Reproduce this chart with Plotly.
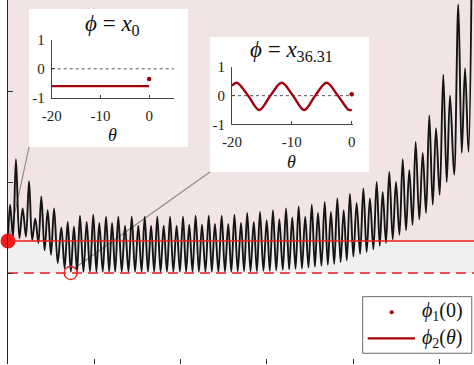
import plotly.graph_objects as go

# ---------------- main panel data ----------------
# local maxima of the oscillating trajectory
peak_x = [1.2, 4.6, 8.5, 12.2, 15.8, 19.3, 23.0, 26.7, 30.9, 34.6, 38.2, 41.7, 45.6, 49.4, 52.9, 56.8,
          60.3, 63.9, 67.8, 71.7, 75.5, 79.2, 82.9, 86.5, 90.2, 93.9, 97.7, 101.4, 105.0, 108.7, 112.4,
          116.3, 119.9, 123.8, 127.6, 131.2, 135.0, 138.6, 142.4, 146.0, 149.9, 153.5, 157.2, 161.1,
          164.7, 168.4, 172.2, 176.0, 179.6, 183.5, 187.1, 190.8, 194.5, 198.1, 202.0, 205.9, 209.7,
          213.6, 217.1, 220.9, 224.8, 228.7, 232.5, 236.2, 240.3, 244.1, 248.0, 252.2, 256.1, 260.9,
          264.8, 268.7]
peak_y = [1.75, 2.25, 1.71, 2.01, 1.60, 1.84, 1.69, 1.71, 1.50, 1.56, 1.51, 1.63, 1.56, 1.64, 1.55, 1.62,
          1.55, 1.62, 1.52, 1.62, 1.52, 1.62, 1.52, 1.62, 1.52, 1.62, 1.52, 1.62, 1.53, 1.63, 1.53,
          1.63, 1.54, 1.63, 1.54, 1.64, 1.55, 1.66, 1.56, 1.67, 1.58, 1.69, 1.59, 1.71,
          1.61, 1.73, 1.62, 1.75, 1.66, 1.78, 1.67, 1.82, 1.69, 1.87, 1.77, 1.93, 1.82,
          2.00, 1.89, 2.11, 2.00, 2.25, 2.13, 2.44, 2.32, 2.73, 2.59, 3.18, 2.95, 3.95,
          3.25, 4.44]
# local minima (first entry = starting value)
trough_x = [0.0, 2.9, 6.6, 10.4, 14.0, 17.6, 21.2, 24.9, 28.8, 32.8, 36.4, 40.0, 43.7, 47.5, 51.2, 54.9,
            58.6, 62.1, 65.9, 69.8, 73.6, 77.4, 81.1, 84.7, 88.4, 92.1, 95.8, 99.6, 103.2, 106.9, 110.6,
            114.4, 118.1, 121.9, 125.7, 129.4, 133.1, 136.8, 140.5, 144.2, 148.0, 151.7, 155.4, 159.2,
            162.9, 166.6, 170.3, 174.1, 177.8, 181.6, 185.3, 189.0, 192.7, 196.3, 200.1, 204.0, 207.8,
            211.7, 215.4, 219.0, 222.9, 226.8, 230.6, 234.4, 238.3, 242.2, 246.1, 250.1, 254.2, 258.5,
            262.9, 266.8]
trough_y = [1.352, 1.40, 1.38, 1.40, 1.36, 1.33, 1.25, 1.20, 1.11, 1.05, 1.015, 1.015, 1.015, 1.015, 1.015, 1.015,
            1.015, 1.015, 1.015, 1.015, 1.015, 1.015, 1.015, 1.015, 1.015, 1.015, 1.015, 1.015, 1.015, 1.015, 1.015,
            1.015, 1.015, 1.015, 1.015, 1.015, 1.02, 1.02, 1.02, 1.02, 1.025, 1.025, 1.03, 1.035,
            1.04, 1.045, 1.05, 1.06, 1.07, 1.08, 1.09, 1.10, 1.12, 1.14, 1.18, 1.21, 1.23,
            1.26, 1.30, 1.33, 1.37, 1.42, 1.47, 1.53, 1.59, 1.66, 1.75, 1.86, 2.00, 2.08,
            2.32, 2.33]

level_phi = 1.352      # solid red level
level_min = 1.0        # dashed red level (minimum)
x_start = 0.0
x_star = 36.31
x_end = 270.0
main_xticks = [50, 100, 150, 200, 250]
main_yticks = [1, 2, 3]

# ---------------- inset data ----------------
inset_xticks = [-20, -10, 0]
inset_xtext = ["-20", "-10", "0"]
inset_yticks = [-1, 0, 1]
inset_ytext = ["-1", "0", "1"]

# phi = x_0
theta_a = [-20, 0]
phi2_a = [-0.6, -0.6]
phi1_a = -0.35
# phi = x_36.31
theta_b = [-20, -19.2, -17.3, -15.45, -13.6, -11.7, -9.8, -7.95, -6.1, -4.2, -2.3, -0.45, 0]
phi2_b = [0.35, 0.45, 0.0, -0.50, 0.0, 0.45, 0.0, -0.50, 0.0, 0.45, 0.0, -0.50, -0.48]
phi1_b = 0.05

RED = "#ee1d1d"
DRED = "#a3000f"
FONT = "Liberation Serif"

curve_x, curve_y = [], []
for i in range(len(peak_x)):
    curve_x += [trough_x[i], peak_x[i]]
    curve_y += [trough_y[i], peak_y[i]]

fig = go.Figure()
# main curve
fig.add_trace(go.Scatter(x=curve_x, y=curve_y, mode="lines",
                         line=dict(color="#141414", width=1.9, shape="spline", smoothing=1.0),
                         xaxis="x", yaxis="y"))
fig.add_trace(go.Scatter(x=[x_start, x_end], y=[level_phi, level_phi], mode="lines",
                         line=dict(color=RED, width=1.5), xaxis="x", yaxis="y"))
fig.add_trace(go.Scatter(x=[x_start, x_end], y=[level_min, level_min], mode="lines",
                         line=dict(color=RED, width=1.5, dash="10px,6px"), xaxis="x", yaxis="y"))
fig.add_trace(go.Scatter(x=[x_start], y=[level_phi], mode="markers", cliponaxis=False,
                         marker=dict(color=RED, size=15, line=dict(width=0)), xaxis="x", yaxis="y"))
fig.add_trace(go.Scatter(x=[x_star], y=[level_min], mode="markers", cliponaxis=False,
                         marker=dict(color="rgba(0,0,0,0)", size=13, line=dict(color=RED, width=1.3)),
                         xaxis="x", yaxis="y"))

# inset 1
fig.add_trace(go.Scatter(x=[-20, 5.1], y=[0, 0], mode="lines",
                         line=dict(color="#555", width=1, dash="dot"), xaxis="x2", yaxis="y2"))
fig.add_trace(go.Scatter(x=theta_a, y=phi2_a, mode="lines",
                         line=dict(color=DRED, width=2.4), xaxis="x2", yaxis="y2"))
fig.add_trace(go.Scatter(x=[0], y=[phi1_a], mode="markers", cliponaxis=False,
                         marker=dict(color=DRED, size=4.5), xaxis="x2", yaxis="y2"))
# inset 2
fig.add_trace(go.Scatter(x=[-20, 0.3], y=[0, 0], mode="lines",
                         line=dict(color="#555", width=1, dash="dot"), xaxis="x3", yaxis="y3"))
fig.add_trace(go.Scatter(x=theta_b, y=phi2_b, mode="lines",
                         line=dict(color=DRED, width=2.4, shape="spline", smoothing=1.0),
                         xaxis="x3", yaxis="y3"))
fig.add_trace(go.Scatter(x=[0], y=[phi1_b], mode="markers", cliponaxis=False,
                         marker=dict(color=DRED, size=4.5), xaxis="x3", yaxis="y3"))

tickfont = dict(family=FONT, size=15, color="#222")
inset_x = dict(showgrid=False, zeroline=False, showline=True, linecolor="#444", linewidth=1,
               ticks="inside", ticklen=3, tickcolor="#444", tickvals=inset_xticks, ticktext=inset_xtext,
               tickfont=tickfont, ticklabelstandoff=4, automargin=False)
inset_y = dict(showgrid=False, zeroline=False, showline=True, linecolor="#444", linewidth=1,
               ticks="inside", ticklen=3, tickcolor="#444", tickvals=inset_yticks, ticktext=inset_ytext,
               tickfont=tickfont, ticklabelstandoff=3, range=[-1, 1], automargin=False)

fig.update_layout(
    width=474, height=365, autosize=False,
    margin=dict(l=8, r=0, t=0, b=1, pad=0, autoexpand=False),
    paper_bgcolor="white", plot_bgcolor="rgba(0,0,0,0)", showlegend=False,
    xaxis=dict(range=[0, x_end], tickvals=main_xticks, ticks="inside", ticklen=5, tickcolor="#333",
               showticklabels=False, showgrid=False, zeroline=False, showline=False, automargin=False),
    yaxis=dict(range=[0, 4], tickvals=main_yticks, ticks="inside", ticklen=5, tickcolor="#333",
               showticklabels=False, showgrid=False, zeroline=False, showline=True,
               linecolor="#222", linewidth=1, automargin=False),
    xaxis2=dict(inset_x, domain=[0.0938, 0.3562], range=[-20, 5.1], anchor="y2"),
    yaxis2=dict(inset_y, domain=[0.7316, 0.8901], anchor="x2"),
    xaxis3=dict(inset_x, domain=[0.4807, 0.7414], range=[-20, 0.3], anchor="y3"),
    yaxis3=dict(inset_y, domain=[0.6585, 0.8159], anchor="x3"),
)

shapes = [
    dict(type="rect", xref="x", yref="y", x0=0, x1=x_end, y0=level_phi, y1=4.2,
         fillcolor="#f2e4e4", line=dict(width=0), layer="below"),
    dict(type="rect", xref="x", yref="y", x0=0, x1=x_end, y0=level_min, y1=level_phi,
         fillcolor="#f0f0f0", line=dict(width=0), layer="below"),
    # inset boxes
    dict(type="rect", xref="x", yref="y", x0=12.2, x1=104.3, y0=2.385, y1=3.901,
         fillcolor="white", line=dict(width=0), layer="below"),
    dict(type="rect", xref="x", yref="y", x0=117.0, x1=209.2, y0=2.110, y1=3.593,
         fillcolor="white", line=dict(width=0), layer="below"),
    # connectors
    dict(type="line", xref="x", yref="y", x0=12.2, y0=2.385, x1=1.2, y1=1.42,
         line=dict(color="#8a8a8a", width=1.1), layer="below"),
    dict(type="line", xref="x", yref="y", x0=117.0, y0=2.110, x1=38.3, y1=1.05,
         line=dict(color="#8a8a8a", width=1.1), layer="below"),
    # legend box
    dict(type="rect", xref="x", yref="y", x0=205.5, x1=268.7, y0=0.118, y1=0.740,
         fillcolor="white", line=dict(color="#6a6a6a", width=1), layer="below"),
    dict(type="line", xref="x", yref="y", x0=208.4, x1=235.8, y0=0.282, y1=0.282,
         line=dict(color=DRED, width=2.4), layer="below"),
    dict(type="circle", xref="x", yref="y", x0=221.1, x1=223.5, y0=0.546, y1=0.592,
         fillcolor=DRED, line=dict(width=0), layer="below"),
]
fig.update_layout(shapes=shapes)

ann = []
def txt(x, y, s, size, xanchor="center"):
    ann.append(dict(xref="paper", yref="paper", x=x, y=y, text=s, showarrow=False,
                    xanchor=xanchor, yanchor="middle",
                    font=dict(family=FONT, size=size, color="#111")))

txt(0.2232, 0.9300, "<i>ϕ</i> = <i>x</i><sub>0</sub>", 23)
txt(0.6094, 0.8610, "<i>ϕ</i> = <i>x</i><sub>36.31</sub>", 23)
txt(0.2232, 0.6291, "<i>θ</i>", 18)
txt(0.6094, 0.5549, "<i>θ</i>", 18)
txt(0.8841, 0.1429, "<i>ϕ</i><sub>1</sub>(0)", 20, "left")
txt(0.8841, 0.0714, "<i>ϕ</i><sub>2</sub>(<i>θ</i>)", 20, "left")
fig.update_layout(annotations=ann)

fig.write_html("out.html", config={"displayModeBar": False},
               post_script="document.body.style.margin='0px';document.body.style.overflow='hidden';")
